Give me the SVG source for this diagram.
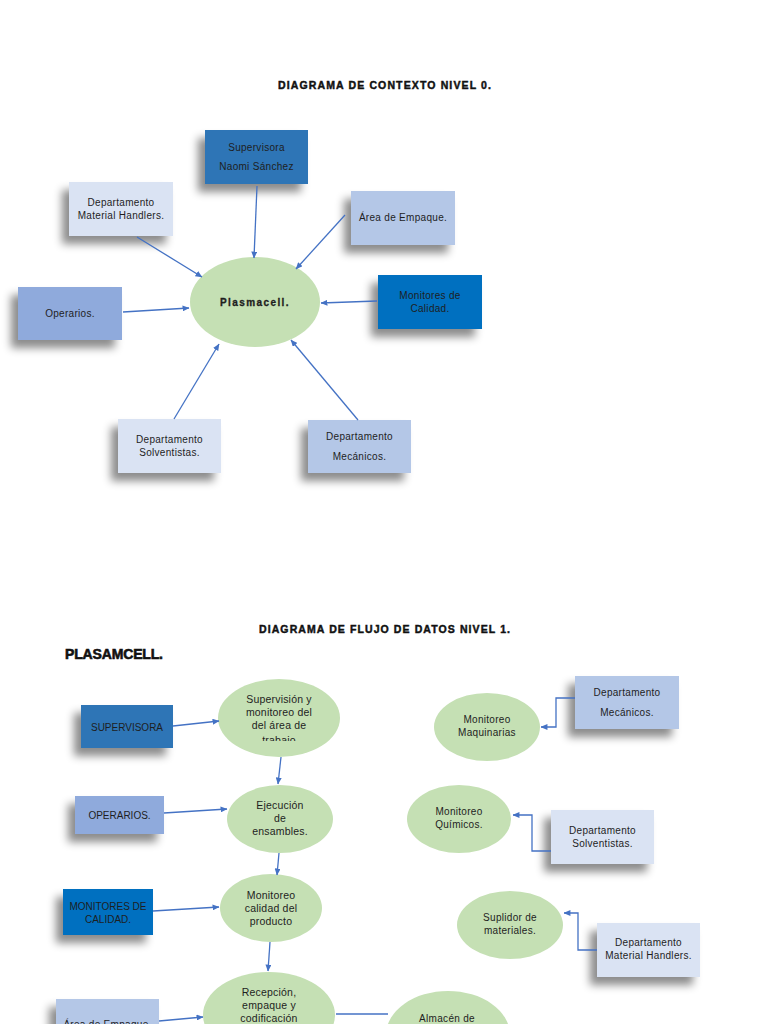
<svg xmlns="http://www.w3.org/2000/svg" width="768" height="1024" viewBox="0 0 768 1024">
<style>
  .t { font-family: "Liberation Sans", Arial, sans-serif; font-size: 10px; fill: #1e1e1e; text-anchor: middle; }
  .ts { letter-spacing: 0.3px; }
  .e { font-size: 10.5px; letter-spacing: 0.2px; }
  .title { font-family: "Liberation Sans", Arial, sans-serif; font-size: 10.5px; font-weight: bold; fill: #111; stroke: #111; stroke-width: 0.45; text-anchor: middle; }
  .dark { fill: #2E75B6; }
  .mon { fill: #0070C0; }
  .mid { fill: #8FAADC; }
  .lm { fill: #B4C7E7; }
  .lt { fill: #DAE3F3; }
  .ell { fill: #C5E0B4; }
  .box { filter: url(#sh); }
  .c { fill: none; stroke: #4472C4; stroke-width: 1.3; marker-end: url(#ah); }
  .cl { fill: none; stroke: #4472C4; stroke-width: 1.3; }
</style>
<defs>
  <filter id="sh" x="-30%" y="-30%" width="160%" height="180%">
    <feDropShadow dx="-7" dy="8" stdDeviation="4.5" flood-color="#000" flood-opacity="0.45"/>
  </filter>
  <marker id="ah" viewBox="0 0 8 7" refX="7.5" refY="3.5" markerWidth="7" markerHeight="6" markerUnits="userSpaceOnUse" orient="auto">
    <path d="M0,0 L8,3.5 L0,7 z" fill="#4472C4"/>
  </marker>
  <clipPath id="clip1">
    <rect x="200" y="680" width="160" height="61"/>
  </clipPath>
</defs>

<rect width="768" height="1024" fill="#ffffff"/>

<!-- Titles -->
<text class="title" x="384.5" y="89" textLength="213" lengthAdjust="spacing">DIAGRAMA DE CONTEXTO NIVEL 0.</text>
<text class="title" x="384.5" y="633" textLength="251" lengthAdjust="spacing">DIAGRAMA DE FLUJO DE DATOS NIVEL 1.</text>
<text x="65" y="659" font-family="Liberation Sans, Arial, sans-serif" font-size="14" font-weight="bold" fill="#111" stroke="#111" stroke-width="0.6" textLength="98" lengthAdjust="spacing">PLASAMCELL.</text>

<!-- ===== Top diagram nodes ===== -->
<g id="n-supervisora">
  <rect class="box dark" x="205" y="130" width="103" height="54"/>
  <text class="t ts" x="256.5" y="151">Supervisora</text>
  <text class="t ts" x="256.5" y="170">Naomi Sánchez</text>
</g>
<g id="n-material-handlers">
  <rect class="box lt" x="69" y="182" width="104" height="54"/>
  <text class="t ts" x="121" y="206">Departamento</text>
  <text class="t ts" x="121" y="219">Material Handlers.</text>
</g>
<g id="n-area-empaque">
  <rect class="box lm" x="351" y="191" width="104" height="54"/>
  <text class="t ts" x="403" y="221">Área de Empaque.</text>
</g>
<g id="n-operarios">
  <rect class="box mid" x="18" y="287" width="104" height="53"/>
  <text class="t ts" x="70" y="317">Operarios.</text>
</g>
<g id="n-monitores">
  <rect class="box mon" x="378" y="275" width="104" height="54"/>
  <text class="t ts" x="430" y="299">Monitores de</text>
  <text class="t ts" x="430" y="312">Calidad.</text>
</g>
<g id="n-solventistas">
  <rect class="box lt" x="118" y="419" width="103" height="54"/>
  <text class="t ts" x="169.5" y="443">Departamento</text>
  <text class="t ts" x="169.5" y="456">Solventistas.</text>
</g>
<g id="n-mecanicos">
  <rect class="box lm" x="308" y="420" width="103" height="53"/>
  <text class="t ts" x="359.5" y="440">Departamento</text>
  <text class="t ts" x="359.5" y="460">Mecánicos.</text>
</g>
<g id="n-plasmacell">
  <ellipse class="ell" cx="255" cy="302" rx="65" ry="45"/>
  <text class="t" x="255" y="306" font-weight="bold" stroke="#1e1e1e" stroke-width="0.3" letter-spacing="1.4">Plasmacell.</text>
</g>

<!-- ===== Bottom diagram nodes ===== -->
<g id="n2-supervisora">
  <rect class="box dark" x="81" y="705" width="92" height="43"/>
  <text class="t" x="127" y="731">SUPERVISORA</text>
</g>
<g id="n2-supervision">
  <ellipse class="ell" cx="279" cy="718" rx="61" ry="39"/>
  <g clip-path="url(#clip1)">
    <text class="t e" x="279" y="703">Supervisión y</text>
    <text class="t e" x="279" y="716">monitoreo del</text>
    <text class="t e" x="279" y="729">del área de</text>
    <text class="t e" x="279" y="744">trabajo</text>
  </g>
</g>
<g id="n2-operarios">
  <rect class="box mid" x="75" y="796" width="89" height="38"/>
  <text class="t" x="119.5" y="819">OPERARIOS.</text>
</g>
<g id="n2-ejecucion">
  <ellipse class="ell" cx="280" cy="819" rx="53" ry="34"/>
  <text class="t e" x="280" y="809">Ejecución</text>
  <text class="t e" x="280" y="822">de</text>
  <text class="t e" x="280" y="835">ensambles.</text>
</g>
<g id="n2-monitores">
  <rect class="box mon" x="63" y="889" width="90" height="46"/>
  <text class="t" x="108" y="910">MONITORES DE</text>
  <text class="t" x="108" y="923">CALIDAD.</text>
</g>
<g id="n2-monitoreo-calidad">
  <ellipse class="ell" cx="271" cy="908" rx="51" ry="34"/>
  <text class="t e" x="271" y="899">Monitoreo</text>
  <text class="t e" x="271" y="912">calidad del</text>
  <text class="t e" x="271" y="925">producto</text>
</g>
<g id="n2-area-empaque">
  <rect class="box lm" x="56" y="999" width="103" height="40"/>
  <text class="t ts" x="107.5" y="1028">Área de Empaque.</text>
</g>
<g id="n2-recepcion">
  <ellipse class="ell" cx="269" cy="1015" rx="66" ry="43"/>
  <text class="t e" x="269" y="996">Recepción,</text>
  <text class="t e" x="269" y="1009">empaque y</text>
  <text class="t e" x="269" y="1022">codificación</text>
</g>
<g id="n2-almacen">
  <ellipse class="ell" cx="448" cy="1035" rx="62" ry="44"/>
  <text class="t ts" x="447" y="1022">Almacén de</text>
</g>
<g id="n2-mecanicos">
  <rect class="box lm" x="575" y="676" width="104" height="53"/>
  <text class="t ts" x="627" y="696">Departamento</text>
  <text class="t ts" x="627" y="716">Mecánicos.</text>
</g>
<g id="n2-maquinarias">
  <ellipse class="ell" cx="487" cy="727" rx="53" ry="34"/>
  <text class="t ts" x="487" y="723">Monitoreo</text>
  <text class="t ts" x="487" y="736">Maquinarias</text>
</g>
<g id="n2-solventistas">
  <rect class="box lt" x="551" y="810" width="103" height="54"/>
  <text class="t ts" x="602.5" y="834">Departamento</text>
  <text class="t ts" x="602.5" y="847">Solventistas.</text>
</g>
<g id="n2-quimicos">
  <ellipse class="ell" cx="459" cy="819" rx="52" ry="34"/>
  <text class="t ts" x="459" y="815">Monitoreo</text>
  <text class="t ts" x="459" y="828">Químicos.</text>
</g>
<g id="n2-suplidor">
  <ellipse class="ell" cx="510" cy="925" rx="53" ry="34"/>
  <text class="t ts" x="510" y="921">Suplidor de</text>
  <text class="t ts" x="510" y="934">materiales.</text>
</g>
<g id="n2-material-handlers">
  <rect class="box lt" x="597" y="923" width="103" height="54"/>
  <text class="t ts" x="648.5" y="946">Departamento</text>
  <text class="t ts" x="648.5" y="959">Material Handlers.</text>
</g>

<!-- ===== Connectors ===== -->
<g id="connectors">
  <line class="c" x1="257" y1="186" x2="254" y2="258"/>
  <line class="c" x1="137" y1="237" x2="202" y2="277"/>
  <line class="c" x1="345" y1="215" x2="296" y2="269"/>
  <line class="c" x1="123" y1="312" x2="189" y2="308"/>
  <line class="c" x1="377" y1="301" x2="321" y2="303"/>
  <line class="c" x1="174" y1="419" x2="219" y2="344"/>
  <line class="c" x1="358" y1="420" x2="291" y2="340"/>

  <line class="c" x1="173" y1="726" x2="219" y2="721"/>
  <line class="c" x1="281" y1="757" x2="278" y2="784"/>
  <line class="c" x1="164" y1="813" x2="227" y2="809"/>
  <line class="c" x1="279" y1="853" x2="277" y2="875"/>
  <line class="c" x1="153" y1="911" x2="219" y2="907"/>
  <line class="c" x1="270" y1="942" x2="268" y2="971"/>
  <line class="c" x1="159" y1="1021" x2="203" y2="1017"/>
  <line class="cl" x1="336" y1="1014" x2="388" y2="1014"/>

  <polyline class="c" points="575,698 556,698 556,727 541,727"/>
  <polyline class="c" points="551,851 532,851 532,815 513,815"/>
  <polyline class="c" points="597,950 578,950 578,913 564,913"/>
</g>
</svg>
